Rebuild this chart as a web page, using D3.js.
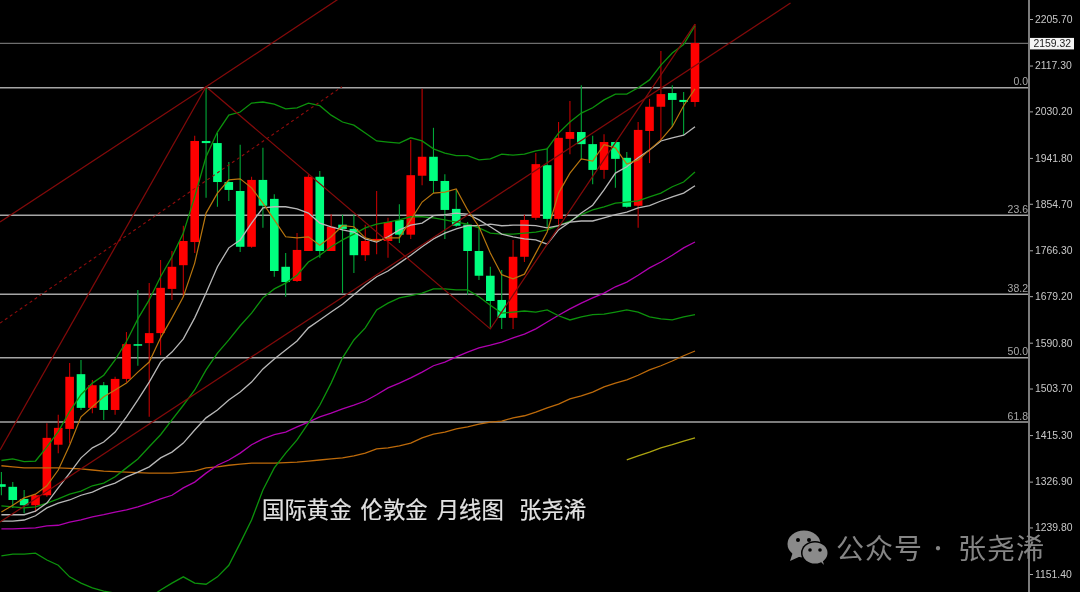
<!DOCTYPE html>
<html><head><meta charset="utf-8">
<script src="https://cdn.jsdelivr.net/npm/d3@7"></script>
<style>
html,body{margin:0;padding:0;background:#000;overflow:hidden}
svg{display:block;filter:blur(0.3px)}
</style></head><body><svg id="c" width="1080" height="592"></svg>
<script>
const opens=[1322,1317,1294,1282,1301,1397,1427,1531,1467,1510,1463,1522,1588,1590,1609,1693,1738,1782,1974,1970,1896,1879,1773,1900,1864,1735,1708,1765,1906,1765,1815,1807,1757,1784,1784,1824,1796,1908,1944,1898,1845,1815,1765,1718,1672,1638,1754,1828,1928,1826,1978,1991,1968,1919,1972,1942,1851,1993,2039,2065,2052,2048];
const highs=[1345,1326,1311,1303,1438,1454,1552,1558,1520,1516,1526,1611,1691,1704,1748,1765,1813,1984,2077,1989,1934,1967,1906,1961,1873,1761,1799,1911,1917,1835,1834,1834,1815,1879,1828,1854,1976,2073,1999,1911,1881,1820,1811,1735,1729,1786,1834,1951,1961,2010,2050,2080,1984,1987,1972,1953,2010,2054,2145,2080,2067,2196];
const lows=[1301,1277,1267,1269,1298,1381,1400,1463,1457,1444,1454,1516,1547,1450,1567,1672,1678,1761,1866,1849,1860,1763,1771,1809,1716,1678,1706,1765,1752,1765,1685,1723,1746,1759,1752,1780,1788,1890,1875,1788,1811,1682,1710,1619,1617,1617,1744,1824,1809,1811,1949,1938,1892,1902,1885,1847,1809,1932,1976,2001,1985,2039];
const closes=[1317,1292,1282,1301,1410,1429,1526,1467,1510,1463,1522,1588,1585,1609,1695,1735,1784,1974,1970,1896,1881,1773,1900,1851,1727,1706,1767,1906,1765,1811,1807,1757,1784,1788,1820,1796,1909,1944,1898,1843,1813,1765,1718,1670,1638,1754,1824,1930,1826,1980,1991,1968,1919,1972,1940,1849,1995,2039,2063,2052,2048,2160];

const bollUpper=[1367,1370,1365,1366,1393,1422,1460,1492,1514,1529,1558,1593,1636,1672,1716,1754,1799,1868,1944,1991,2023,2029,2046,2048,2044,2035,2037,2046,2041,2023,2010,2004,1989,1974,1972,1970,1980,1974,1959,1951,1946,1946,1938,1940,1949,1947,1949,1955,1959,1989,2010,2027,2037,2052,2063,2063,2075,2090,2118,2141,2157,2193];
const bollLower=[1186,1189,1189,1191,1178,1168,1146,1134,1125,1119,1115,1110,1106,1106,1121,1134,1146,1134,1132,1146,1168,1210,1254,1311,1353,1381,1406,1438,1472,1514,1562,1596,1619,1653,1666,1676,1680,1685,1693,1693,1691,1691,1678,1662,1647,1649,1651,1649,1653,1642,1634,1640,1644,1645,1649,1653,1649,1640,1636,1634,1640,1644];
const bollMid=[1281,1279,1277,1279,1286,1294,1303,1309,1319,1324,1336,1353,1370,1393,1416,1444,1472,1501,1539,1571,1596,1623,1647,1676,1693,1704,1719,1744,1757,1773,1786,1797,1809,1816,1820,1824,1830,1830,1828,1824,1820,1816,1809,1799,1797,1797,1799,1801,1805,1813,1822,1834,1843,1849,1856,1858,1860,1868,1875,1887,1896,1915];
const maFast=[1269,1282,1296,1303,1319,1349,1396,1450,1469,1488,1501,1514,1535,1554,1600,1638,1678,1742,1837,1875,1900,1902,1885,1856,1824,1792,1790,1792,1776,1792,1813,1811,1790,1784,1790,1790,1824,1858,1875,1877,1883,1843,1811,1761,1720,1712,1721,1761,1801,1875,1913,1940,1936,1967,1961,1930,1938,1957,1976,2001,2041,2073];
const maTen=[1264,1264,1264,1271,1286,1315,1343,1372,1391,1402,1421,1450,1482,1516,1554,1573,1598,1638,1685,1735,1771,1786,1818,1847,1849,1849,1845,1837,1818,1811,1805,1801,1788,1782,1792,1805,1814,1818,1832,1834,1837,1835,1824,1811,1797,1792,1788,1786,1778,1805,1820,1837,1852,1881,1913,1925,1942,1957,1974,1980,1985,2001];
const maTwenty=[1252,1252,1254,1262,1277,1286,1292,1301,1307,1317,1324,1336,1345,1355,1372,1383,1400,1425,1448,1463,1482,1497,1516,1541,1560,1577,1594,1619,1634,1649,1664,1682,1700,1716,1727,1742,1757,1773,1788,1799,1807,1813,1813,1816,1813,1814,1814,1813,1809,1813,1820,1822,1822,1828,1834,1839,1847,1851,1860,1868,1875,1889];
const maSixty=[1237,1237,1238,1239,1243,1244,1250,1254,1260,1264,1269,1273,1279,1286,1294,1301,1315,1326,1343,1358,1368,1381,1397,1408,1416,1421,1431,1440,1450,1457,1465,1472,1480,1492,1505,1514,1524,1535,1547,1554,1564,1573,1581,1586,1592,1600,1607,1617,1630,1643,1655,1666,1676,1685,1697,1706,1719,1733,1744,1757,1771,1782];
const maLong=[1357,1355,1353,1353,1353,1353,1352,1351,1349,1347,1346,1345,1344,1343,1343,1343,1345,1347,1353,1355,1358,1360,1362,1362,1362,1363,1364,1366,1368,1370,1372,1376,1381,1389,1391,1395,1400,1410,1417,1421,1427,1431,1436,1440,1442,1448,1452,1459,1467,1474,1484,1490,1497,1507,1514,1520,1529,1539,1547,1556,1566,1575];
const maYellowStart=55;
const maYellow=[1368,1376,1383,1391,1397,1404,1410];

const fanHigh=[[-0.12,1820],[18,2077],[29.8,2246]];
const fanSteep=[[-0.12,1387],[18,2077]];
const zigzag=[[18,2077],[43,1617],[61,2196]];
const channel=[[-0.12,1250],[69.4,2236]];
const channelDotted=[[-0.12,1628],[29.95,2077]];

const fibLabels=["0.0","23.6","38.2","50.0","61.8"];
const fibPrices=[2075,1833,1683,1562,1440];
const lastPrice=2159.32;
const axisTicks=[2205.70,2117.30,2030.20,1941.80,1854.70,1766.30,1679.20,1590.80,1503.70,1415.30,1326.90,1239.80,1151.40];
const titleParts=["国际黄金","伦敦金","月线图","张尧浠"];
const watermark=["公众号","·","张尧浠"];

const svg=d3.select("#c");
svg.append("rect").attr("width",1080).attr("height",592).attr("fill","#000");
const x=d3.scaleLinear().domain([0,61]).range([1.4,695]);
const y=d3.scaleLinear().domain([2205.7,1151.4]).range([19,574]);
const axisX=1029;
const asciiFont='"Liberation Sans",Arial,sans-serif';
const cjk='"Noto Sans CJK SC","Noto Sans",sans-serif';

// horizontal levels
svg.append("line").attr("x1",0).attr("x2",axisX).attr("y1",y(lastPrice)).attr("y2",y(lastPrice)).attr("stroke","#6e6e6e").attr("stroke-width",1.2);
svg.selectAll(".fib").data(fibPrices).join("line").attr("class","fib")
 .attr("x1",0).attr("x2",axisX).attr("y1",d=>y(d)).attr("y2",d=>y(d))
 .attr("stroke","#a6a6a6").attr("stroke-width",1.5);
svg.selectAll(".fibl").data(fibPrices).join("text").attr("class","fibl")
 .attr("x",axisX-1).attr("y",d=>y(d)-2.5).attr("text-anchor","end")
 .attr("font-family",asciiFont).attr("font-size",10.5).attr("fill","#a8a8a8")
 .text((d,i)=>fibLabels[i]);

// candles
const idx=d3.range(closes.length);
const up=i=>closes[i]>=opens[i];
const bw=8.6;
svg.selectAll(".wick").data(idx).join("line").attr("class","wick")
 .attr("x1",i=>x(i)).attr("x2",i=>x(i)).attr("y1",i=>y(highs[i])).attr("y2",i=>y(lows[i]))
 .attr("stroke",i=>up(i)?"#c00000":"#00a838").attr("stroke-width",1.1);
svg.selectAll(".body").data(idx).join("rect").attr("class","body")
 .attr("x",i=>x(i)-bw/2).attr("width",bw)
 .attr("y",i=>y(Math.max(opens[i],closes[i])))
 .attr("height",i=>Math.max(1.5,Math.abs(y(opens[i])-y(closes[i]))))
 .attr("fill",i=>up(i)?"#ff0000":"#00ff7f");

// overlays
const ln=d3.line().x(d=>x(d[0])).y(d=>y(d[1]));
const toPts=(arr,start=0)=>arr.map((v,i)=>[i+start,v]);
const overlays=[
 [toPts(maLong),"#bd6a0a",1.3],
 [toPts(maSixty),"#b000b0",1.3],
 [toPts(bollUpper),"#0c920c",1.3],
 [toPts(bollMid),"#0c920c",1.3],
 [toPts(bollLower),"#0c920c",1.3],
 [toPts(maTwenty),"#b8b8b8",1.3],
 [toPts(maTen),"#b8b8b8",1.3],
 [toPts(maFast),"#b8760e",1.2],
 [toPts(maYellow,maYellowStart),"#aca410",1.3]
];
svg.selectAll(".ov").data(overlays).join("path").attr("class","ov")
 .attr("fill","none").attr("d",d=>ln(d[0])).attr("stroke",d=>d[1]).attr("stroke-width",d=>d[2]);

// trend lines
svg.selectAll(".tr").data([fanHigh,fanSteep,zigzag,channel]).join("path").attr("class","tr")
 .attr("fill","none").attr("d",ln).attr("stroke","#820a0a").attr("stroke-width",1.25);
svg.append("path").attr("fill","none").attr("d",ln(channelDotted))
 .attr("stroke","#900c0c").attr("stroke-width",1.1).attr("stroke-dasharray","3 3");

// price axis
const axis=d3.axisRight(y).tickValues(axisTicks).tickFormat(d3.format(".2f")).tickSize(3).tickPadding(2);
const ag=svg.append("g").attr("transform",`translate(${axisX+1},0)`).call(axis);
ag.select(".domain").remove();
ag.selectAll(".tick line").attr("stroke","#aaaaaa");
ag.selectAll(".tick text").attr("fill","#c8c8c8").attr("font-family",asciiFont).attr("font-size",10.4);
svg.append("line").attr("x1",axisX).attr("x2",axisX).attr("y1",0).attr("y2",592).attr("stroke","#7c7c7c").attr("stroke-width",2);

// last price tag
const tag=svg.append("g").attr("transform",`translate(${axisX+1},${y(lastPrice)})`);
tag.append("rect").attr("x",0).attr("y",-5.5).attr("width",44).attr("height",11.5).attr("fill","#f4f4f4");
tag.append("text").attr("x",3.5).attr("y",4).attr("font-family",asciiFont).attr("font-size",10.4).attr("fill","#222").text(d3.format(".2f")(lastPrice));

// title
const t=svg.append("text").attr("x",262).attr("y",518).attr("font-family",cjk).attr("font-size",22.4).attr("fill","#e2e2e2").attr("stroke","#e2e2e2").attr("stroke-width",0.2);
const gaps=[0,9,9,15];
titleParts.forEach((s,i)=>t.append("tspan").attr("dx",gaps[i]).text(s));

// watermark
const wm=svg.append("g").attr("fill","#858585");
wm.append("text").attr("x",836).attr("y",559).attr("font-family",cjk).attr("font-size",28).attr("letter-spacing",1).text(watermark[0]);
wm.append("text").attr("x",938).attr("y",556).attr("text-anchor","middle").attr("font-family",cjk).attr("font-size",20).text(watermark[1]);
wm.append("text").attr("x",958).attr("y",559).attr("font-family",cjk).attr("font-size",28).attr("letter-spacing",1).text(watermark[2]);
// WeChat glyph
const ic=svg.append("g");
ic.append("ellipse").attr("cx",804).attr("cy",544).attr("rx",16.5).attr("ry",13.5).attr("fill","#8a8a8a");
ic.append("path").attr("d","M793 552 L790 561 L801 556 Z").attr("fill","#8a8a8a");
ic.append("circle").attr("cx",798).attr("cy",540).attr("r",2).attr("fill","#000");
ic.append("circle").attr("cx",809).attr("cy",540).attr("r",2).attr("fill","#000");
ic.append("ellipse").attr("cx",815).attr("cy",553).attr("rx",14).attr("ry",12).attr("fill","#000");
ic.append("ellipse").attr("cx",815).attr("cy",553).attr("rx",12.5).attr("ry",10.5).attr("fill","#8a8a8a");
ic.append("path").attr("d","M820 561 L824 565 L822 558 Z").attr("fill","#8a8a8a");
ic.append("circle").attr("cx",810).attr("cy",550).attr("r",1.8).attr("fill","#000");
ic.append("circle").attr("cx",820).attr("cy",550).attr("r",1.8).attr("fill","#000");
</script></body></html>
